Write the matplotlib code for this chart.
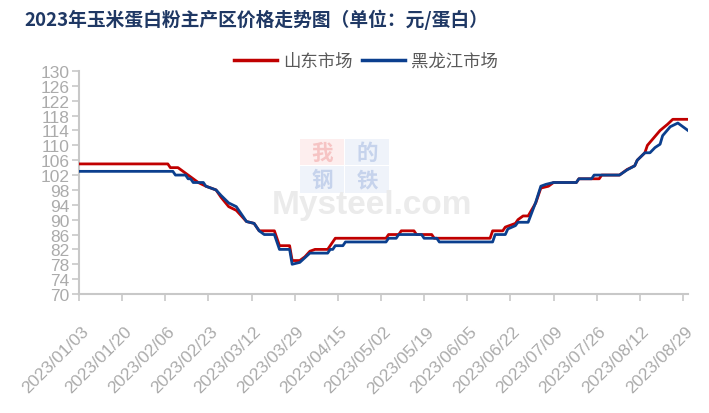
import matplotlib
matplotlib.use("Agg")
import matplotlib.pyplot as plt
import matplotlib.dates as mdates
import matplotlib.transforms as mtransforms
from matplotlib.patches import Rectangle
import pandas as pd

plt.rcParams['font.family'] = ['Liberation Sans', 'Noto Sans CJK SC', 'DejaVu Sans']

title = "2023年玉米蛋白粉主产区价格走势图（单位：元/蛋白）"
series_names = ["山东市场", "黑龙江市场"]

sd_dates = ["2023-01-03", "2023-02-07", "2023-02-08", "2023-02-11", "2023-02-13", "2023-02-15",
            "2023-02-17", "2023-02-19", "2023-02-22", "2023-02-26", "2023-02-28", "2023-03-03",
            "2023-03-06", "2023-03-10", "2023-03-13", "2023-03-15", "2023-03-21", "2023-03-23",
            "2023-03-27", "2023-03-28", "2023-03-31", "2023-04-02", "2023-04-04", "2023-04-06",
            "2023-04-11", "2023-04-14", "2023-05-04", "2023-05-05", "2023-05-09", "2023-05-10",
            "2023-05-15", "2023-05-16", "2023-05-22", "2023-05-23", "2023-06-14", "2023-06-15",
            "2023-06-19", "2023-06-20", "2023-06-24", "2023-06-25", "2023-06-27", "2023-06-29",
            "2023-07-02", "2023-07-04", "2023-07-07", "2023-07-09", "2023-07-18", "2023-07-19",
            "2023-07-27", "2023-07-28", "2023-08-04", "2023-08-07", "2023-08-10", "2023-08-11",
            "2023-08-14", "2023-08-15", "2023-08-20", "2023-08-23", "2023-08-25", "2023-08-31"]
sd_values = [105, 105, 104, 104, 103, 102,
             101, 100, 99, 98, 96, 93.5,
             92.5, 89.5, 89, 87, 87, 83,
             83, 79, 79, 80, 81.5, 82,
             82, 85, 85, 86, 86, 87,
             87, 86, 86, 85, 85, 87,
             87, 88, 89, 90, 91, 91,
             94.5, 98.5, 99, 100, 100, 101,
             101, 102, 102, 103.5, 104.5, 106,
             108, 110, 114, 115.7, 117, 117]

hlj_dates = ["2023-01-03", "2023-02-09", "2023-02-10", "2023-02-14", "2023-02-15", "2023-02-16",
             "2023-02-17", "2023-02-21", "2023-02-22", "2023-02-26", "2023-02-28", "2023-03-03",
             "2023-03-06", "2023-03-10", "2023-03-13", "2023-03-15", "2023-03-17", "2023-03-21",
             "2023-03-23", "2023-03-27", "2023-03-28", "2023-03-31", "2023-04-04", "2023-04-11",
             "2023-04-12", "2023-04-13", "2023-04-14", "2023-04-17", "2023-04-18", "2023-05-04",
             "2023-05-05", "2023-05-08", "2023-05-09", "2023-05-18", "2023-05-19", "2023-05-24",
             "2023-05-25", "2023-06-15", "2023-06-16", "2023-06-20", "2023-06-21", "2023-06-24",
             "2023-06-25", "2023-06-29", "2023-07-02", "2023-07-04", "2023-07-06", "2023-07-09",
             "2023-07-18", "2023-07-19", "2023-07-24", "2023-07-25", "2023-08-04", "2023-08-07",
             "2023-08-10", "2023-08-11", "2023-08-14", "2023-08-16", "2023-08-18", "2023-08-20",
             "2023-08-21", "2023-08-24", "2023-08-27", "2023-08-31"]
hlj_values = [103, 103, 102, 102, 101, 101,
              100, 100, 99, 98, 96.5, 94.5,
              93.5, 89.5, 89, 87, 86, 86,
              82, 82, 78, 78.5, 81, 81,
              82, 82, 83, 83, 84, 84,
              85, 85, 86, 86, 85, 85,
              84, 84, 86, 86, 87.5, 88.4,
              89.3, 89.3, 94.7, 99, 99.5, 100,
              100, 101, 101, 102, 102, 103.4,
              104.5, 106, 108, 108, 109.4, 110.3,
              112.6, 115, 116, 114]

y_ticks = list(range(70, 131, 4))
x_start, x_end = "2023-01-03", "2023-08-31"
x_tick_dates = pd.date_range("2023-01-03", "2023-08-29", freq="17D")

red = "#C00000"
blue = "#0B3F8E"
grey = "#C8C8C8"
label_grey = "#ABABAB"

fig = plt.figure(figsize=(7.09, 4.14), dpi=100)
ax = fig.add_axes([79/709, 1-295/414, (688-79)/709, (295-72)/414])

# watermark (faded logo)
wm_chars = [("我", 0.363, 0.578, "#F6C4C4", "#FDEEEE"),
            ("的", 0.437, 0.578, "#C6D3EC", "#EFF3FA"),
            ("钢", 0.363, 0.455, "#C6D3EC", "#EFF3FA"),
            ("铁", 0.437, 0.455, "#C6D3EC", "#EFF3FA")]
bw, bh = 0.0725, 0.117
for ch, xx, yy, fc_t, fc_b in wm_chars:
    ax.add_patch(Rectangle((xx, yy), bw, bh, transform=ax.transAxes, fc=fc_b, ec='none', zorder=0))
    ax.text(xx + bw / 2, yy + bh / 2, ch, color=fc_t, transform=ax.transAxes, zorder=0.5,
            fontfamily=['Noto Sans CJK SC'], fontweight='bold', fontsize=15.5,
            ha='center', va='center')
ax.text(0.481, 0.365, "Mysteel.com", color="#EBEBEB", ha='center', va='baseline',
        transform=ax.transAxes, zorder=0.5, fontfamily=['Liberation Sans'], fontweight='bold', fontsize=24)

ax.plot(pd.to_datetime(sd_dates), sd_values, color=red, lw=2.0, label=series_names[0], zorder=3)
ax.plot(pd.to_datetime(hlj_dates), hlj_values, color=blue, lw=2.0, label=series_names[1], zorder=4)

ax.set_xlim(pd.Timestamp(x_start), pd.Timestamp(x_end))
ax.set_ylim(70, 130)
ax.set_yticks(y_ticks)
ax.set_xticks(x_tick_dates)
ax.xaxis.set_major_formatter(mdates.DateFormatter("%Y/%m/%d"))

for s in ['top', 'right']:
    ax.spines[s].set_visible(False)
for s in ['left', 'bottom']:
    ax.spines[s].set_color(grey)
    ax.spines[s].set_linewidth(1.5)

ax.tick_params(axis='y', colors=grey, labelcolor=label_grey, labelsize=12.5, length=5, width=1.2, pad=2)
ax.tick_params(axis='x', colors=grey, labelcolor=label_grey, labelsize=12.5, length=5, width=1.2, pad=20)
offset = mtransforms.ScaledTranslation(7/100, 0, fig.dpi_scale_trans)
for lab in ax.get_xticklabels():
    lab.set_rotation(45)
    lab.set_ha('right')
    lab.set_va('center')
    lab.set_rotation_mode('anchor')
    lab.set_transform(lab.get_transform() + offset)
for lab in ax.get_yticklabels():
    lab.set_fontfamily(['Liberation Sans Narrow', 'Liberation Sans'])

fig.text(24/709, 1-20/414, title, fontsize=13.5, fontweight='bold', color='#1F3864',
         fontfamily=['Noto Sans CJK SC'], ha='left', va='center')

leg = fig.legend(loc='center', bbox_to_anchor=(366/709, 1-62/414), ncol=2, frameon=False,
                 prop={'family': 'Noto Sans CJK SC', 'size': 12.5}, handlelength=2.5,
                 handletextpad=0.35, columnspacing=0.5)
for t in leg.get_texts():
    t.set_color('#595959')
for l in leg.get_lines():
    l.set_linewidth(2.5)

fig.savefig("out.png", dpi=100)
